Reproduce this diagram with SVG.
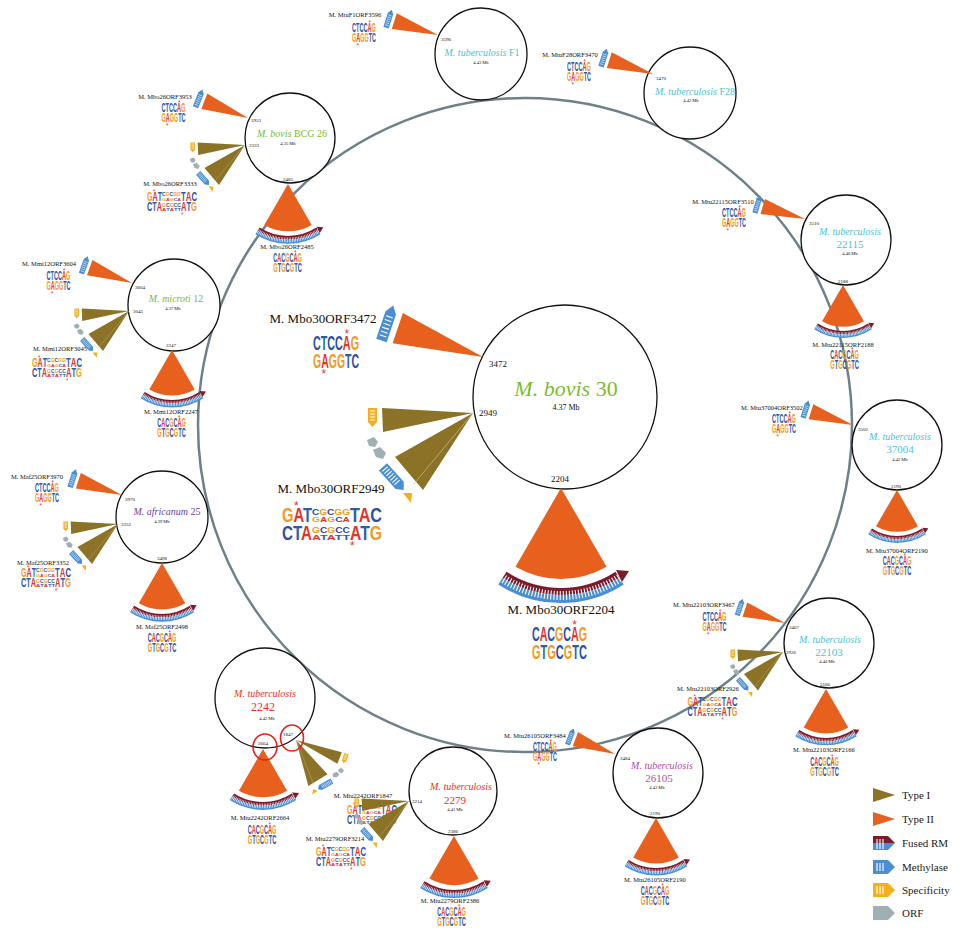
<svg xmlns="http://www.w3.org/2000/svg" width="968" height="938" viewBox="0 0 968 938">
<style>
.or{fill:#e8601e}.ol{fill:#8b7226}.bl{fill:#4a8fd6}.ye{fill:#f2b01c}.gr{fill:#9fb0b5}.dr{fill:#7b1b2c}
.st{stroke:#fff;stroke-width:1.1;fill:none}
.cir{fill:#fff;stroke:#111;stroke-width:1.3}
.lg{font-family:"Liberation Sans",Arial,sans-serif;font-weight:bold;font-size:21px}
.sm{font-family:"Liberation Sans",Arial,sans-serif;font-weight:bold}
.a{fill:#e3342b}.c{fill:#2c4fa6}.g{fill:#f39a1f}.t{fill:#2a5fa8}
.star{fill:#e3342b;font-family:"Liberation Sans",Arial,sans-serif;font-size:12px}
.lb{font-family:"Liberation Serif","Times New Roman",serif;font-size:6.5px;fill:#111;text-anchor:middle}
.lbb{font-family:"Liberation Serif","Times New Roman",serif;font-size:13px;fill:#111;text-anchor:middle}
.pn{font-family:"Liberation Serif","Times New Roman",serif;font-size:5px;fill:#111}
.pnb{font-family:"Liberation Serif","Times New Roman",serif;font-size:9px;fill:#111}
.ti{font-family:"Liberation Serif","Times New Roman",serif;font-size:10px;text-anchor:middle}
.nm{font-family:"Liberation Serif","Times New Roman",serif;font-size:11px;text-anchor:middle}
.mb{font-family:"Liberation Serif","Times New Roman",serif;font-size:4.5px;fill:#111;text-anchor:middle}
.it{font-style:italic}
.cy{fill:#4fbfd2}.gn{fill:#7cbb2c}.rd{fill:#e3322b}.mg{fill:#b94aa3}.pu{fill:#6b3fa6}
.leg{font-family:"Liberation Serif","Times New Roman",serif;font-size:11px;fill:#222}
</style>
<defs>
<g id="meth">
<path class="bl" d="M-107,17 L-107,-12 L-101.5,-20 L-96,-12 L-96,17 Z"/>
<path class="st" d="M-105,-8H-98M-105,-4H-98M-105,0H-98M-105,4H-98M-105,8H-98M-105,12H-98"/>
</g>
<g id="t2">
<polygon class="or" points="0,0 -90,-16 -90,16"/>
<use href="#meth"/>
</g>
<g id="t1">
<polygon class="ol" points="0,0 -91,-5 -90,19"/>
<polygon class="ol" points="0,0 -78,44 -50,77"/>
<line x1="0" y1="0" x2="-60" y2="72" stroke="#d8c890" stroke-width="0.6"/>
<path class="ye" d="M-105,-5 L-96,-5 L-96,9 L-100.5,14 L-105,9 Z"/>
<path class="st" d="M-103,-2H-98M-103,1H-98M-103,4H-98M-103,7H-98"/>
<path class="gr" d="M-106,27 L-99,24 L-95,29 L-98,34 L-104,33 Z"/>
<path class="gr" d="M-100,37 L-93,34 L-87,40 L-90,46 L-97,44 Z"/>
<g transform="translate(-80,65) rotate(48)">
<path class="bl" d="M-15,-5.5 L10,-5.5 L16,0 L10,5.5 L-15,5.5 Z"/>
<path class="st" d="M-12,-3.5V3.5M-9,-3.5V3.5M-6,-3.5V3.5M-3,-3.5V3.5M0,-3.5V3.5M3,-3.5V3.5M6,-3.5V3.5"/>
</g>
<polygon class="ye" points="-70,80 -61,80 -62,90"/>
</g>
<g id="fu">
<path class="or" d="M0,0 L45.5,78.8 A91,91 0 0 1 -45.5,78.8 Z"/>
<path d="M56.4,86.8 A103.5,103.5 0 0 1 -56.4,86.8" fill="none" stroke="#7b1b2c" stroke-width="7"/>
<path d="M60.5,93.1 A111,111 0 0 1 -60.5,93.1" fill="none" stroke="#4a8fd6" stroke-width="8"/>
<path d="M58.5,90.2 A107.5,107.5 0 0 1 -58.5,90.2" fill="none" stroke="#fff" stroke-width="9" stroke-dasharray="1.1 2"/>
<polygon class="dr" points="55,82 68,83 61,94"/>
</g>
<g id="lCT">
<text class="lg" x="-23" y="0" textLength="46" lengthAdjust="spacingAndGlyphs"><tspan class="c">C</tspan><tspan class="t">T</tspan><tspan class="c">C</tspan><tspan class="c">C</tspan><tspan class="a">A</tspan><tspan class="g">G</tspan></text>
<text class="lg" x="-23" y="18" textLength="46" lengthAdjust="spacingAndGlyphs"><tspan class="g">G</tspan><tspan class="a">A</tspan><tspan class="g">G</tspan><tspan class="g">G</tspan><tspan class="t">T</tspan><tspan class="c">C</tspan></text>
<text class="star" x="8.5" y="-12">*</text>
<text class="star" x="-14.5" y="28">*</text>
</g>
<g id="lCA">
<text class="lg" x="-27.5" y="0" textLength="55" lengthAdjust="spacingAndGlyphs"><tspan class="c">C</tspan><tspan class="a">A</tspan><tspan class="c">C</tspan><tspan class="g">G</tspan><tspan class="c">C</tspan><tspan class="a">A</tspan><tspan class="g">G</tspan></text>
<text class="lg" x="-27.5" y="18" textLength="55" lengthAdjust="spacingAndGlyphs"><tspan class="g">G</tspan><tspan class="t">T</tspan><tspan class="g">G</tspan><tspan class="c">C</tspan><tspan class="g">G</tspan><tspan class="t">T</tspan><tspan class="c">C</tspan></text>
<text class="star" x="12.7" y="-12">*</text>
</g>
<g id="lGA">
<text class="lg" x="-50" y="0" textLength="30" lengthAdjust="spacingAndGlyphs"><tspan class="g">G</tspan><tspan class="a">A</tspan><tspan class="t">T</tspan></text>
<text class="sm" x="-20" y="-7" font-size="9" textLength="38" lengthAdjust="spacingAndGlyphs"><tspan class="c">C</tspan><tspan class="g">G</tspan><tspan class="c">C</tspan><tspan class="g">G</tspan><tspan class="g">G</tspan></text>
<text class="sm" x="-20" y="0" font-size="7" textLength="38" lengthAdjust="spacingAndGlyphs"><tspan class="g">G</tspan><tspan class="a">A</tspan><tspan class="g">G</tspan><tspan class="c">C</tspan><tspan class="a">A</tspan></text>
<text class="lg" x="18" y="0" textLength="32" lengthAdjust="spacingAndGlyphs"><tspan class="t">T</tspan><tspan class="a">A</tspan><tspan class="c">C</tspan></text>
<text class="lg" x="-50" y="18" textLength="30" lengthAdjust="spacingAndGlyphs"><tspan class="c">C</tspan><tspan class="t">T</tspan><tspan class="a">A</tspan></text>
<text class="sm" x="-20" y="11" font-size="9" textLength="38" lengthAdjust="spacingAndGlyphs"><tspan class="g">G</tspan><tspan class="c">C</tspan><tspan class="g">G</tspan><tspan class="c">C</tspan><tspan class="c">C</tspan></text>
<text class="sm" x="-20" y="18" font-size="7" textLength="38" lengthAdjust="spacingAndGlyphs"><tspan class="a">A</tspan><tspan class="t">T</tspan><tspan class="a">A</tspan><tspan class="t">T</tspan><tspan class="t">T</tspan></text>
<text class="lg" x="18" y="18" textLength="32" lengthAdjust="spacingAndGlyphs"><tspan class="a">A</tspan><tspan class="t">T</tspan><tspan class="g">G</tspan></text>
<text class="star" x="-38" y="-12">*</text>
<text class="star" x="18" y="28">*</text>
</g>
</defs>
<rect width="968" height="938" fill="#fff"/>

<g id="connectors">
<circle cx="525" cy="425" r="327" fill="none" stroke="#6e8088" stroke-width="2.5"/>
</g>

<g id="bovis30">
<circle class="cir" cx="565" cy="397" r="92" stroke-width="1.8"/>
<text class="ti gn" x="566" y="396" style="font-size:22px"><tspan class="it">M. bovis</tspan> 30</text>
<text class="mb" x="566" y="410" style="font-size:8px">4.37 Mb</text>
<use href="#t2" transform="translate(483,357) rotate(18.7)"/>
<text class="pnb" x="489" y="367">3472</text>
<text class="lbb" x="323" y="323">M. Mbo30ORF3472</text>
<use href="#lCT" transform="translate(336,350)"/>
<use href="#t1" transform="translate(473,413)"/>
<text class="pnb" x="479" y="416">2949</text>
<text class="lbb" x="331" y="493">M. Mbo30ORF2949</text>
<use href="#lGA" transform="translate(332,522)"/>
<use href="#fu" transform="translate(561,488)"/>
<text class="pnb" x="560" y="482" text-anchor="middle">2204</text>
<text class="lbb" x="561" y="614">M. Mbo30ORF2204</text>
<use href="#lCA" transform="translate(559.5,641)"/>
</g>

<g id="F1">
<circle class="cir" cx="481" cy="54" r="46"/>
<text class="ti cy" x="482" y="56"><tspan class="it">M. tuberculosis</tspan>  F1</text>
<text class="mb" x="481" y="64">4.43 Mb</text>
<use href="#t2" transform="translate(438,35) rotate(17.6) scale(0.51)"/>
<text class="pn" x="441" y="41">3596</text>
<text class="lb" x="355" y="17">M. MtuF1ORF3596</text>
<use href="#lCT" transform="translate(364,31.5) scale(0.52,0.58)"/>
</g>

<g id="F28">
<circle class="cir" cx="690" cy="93" r="46"/>
<text class="ti cy" x="695" y="95"><tspan class="it">M. tuberculosis</tspan>  F28</text>
<text class="mb" x="691" y="102">4.42 Mb</text>
<use href="#t2" transform="translate(653,74) rotate(17.6) scale(0.51)"/>
<text class="pn" x="656" y="80">3470</text>
<text class="lb" x="570" y="57">M. MtuF28ORF3470</text>
<use href="#lCT" transform="translate(579,70.5) scale(0.52,0.58)"/>
</g>

<g id="BCG26">
<circle class="cir" cx="290" cy="138" r="45"/>
<text class="ti gn" x="292" y="137"><tspan class="it">M. bovis</tspan> BCG 26</text>
<text class="mb" x="288" y="145">4.35 Mb</text>
<use href="#t2" transform="translate(248,118) rotate(21) scale(0.52)"/>
<text class="pn" x="251" y="122">3953</text>
<text class="lb" x="165" y="99">M. Mbo26ORF3953</text>
<use href="#lCT" transform="translate(173.5,111.5) scale(0.52,0.58)"/>
<use href="#t1" transform="translate(245,145) scale(0.52)"/>
<text class="pn" x="249" y="147">3333</text>
<text class="lb" x="170" y="186">M. Mbo26ORF3333</text>
<use href="#lGA" transform="translate(172,200.5) scale(0.5,0.58)"/>
<use href="#fu" transform="translate(288,184) scale(0.52)"/>
<text class="pn" x="288" y="181" text-anchor="middle">2485</text>
<text class="lb" x="287" y="249">M. Mbo26ORF2485</text>
<use href="#lCA" transform="translate(287.5,261.5) scale(0.52,0.58)"/>
</g>

<g id="Mmi12">
<circle class="cir" cx="174" cy="305" r="46"/>
<text class="ti gn" x="176" y="302"><tspan class="it">M. microti</tspan> 12</text>
<text class="mb" x="173" y="310">4.37 Mb</text>
<use href="#t2" transform="translate(132,283) rotate(20) scale(0.5)"/>
<text class="pn" x="135" y="289">3604</text>
<text class="lb" x="49" y="266">M. Mmi12ORF3604</text>
<use href="#lCT" transform="translate(58.5,279.5) scale(0.52,0.58)"/>
<use href="#t1" transform="translate(129,311) scale(0.52)"/>
<text class="pn" x="133" y="313">3045</text>
<text class="lb" x="60" y="351">M. Mmi12ORF3045</text>
<use href="#lGA" transform="translate(57,366.5) scale(0.5,0.58)"/>
<use href="#fu" transform="translate(172,350) scale(0.5)"/>
<text class="pn" x="171" y="347" text-anchor="middle">2247</text>
<text class="lb" x="171" y="414">M. Mmi12ORF2247</text>
<use href="#lCA" transform="translate(171.5,426.5) scale(0.52,0.58)"/>
</g>

<g id="Maf25">
<circle class="cir" cx="162" cy="517" r="46"/>
<text class="ti pu" x="167" y="515"><tspan class="it">M. africanum</tspan> 25</text>
<text class="mb" x="162" y="523">4.39 Mb</text>
<use href="#t2" transform="translate(122,495) rotate(18) scale(0.51)"/>
<text class="pn" x="125" y="501">3970</text>
<text class="lb" x="37" y="479">M. Maf25ORF3970</text>
<use href="#lCT" transform="translate(47,491.5) scale(0.52,0.58)"/>
<use href="#t1" transform="translate(118,524) scale(0.52)"/>
<text class="pn" x="121" y="526">3352</text>
<text class="lb" x="43" y="565">M. Maf25ORF3352</text>
<use href="#lGA" transform="translate(46,576.5) scale(0.5,0.58)"/>
<use href="#fu" transform="translate(162,563) scale(0.51)"/>
<text class="pn" x="162" y="560" text-anchor="middle">3498</text>
<text class="lb" x="162" y="629">M. Maf25ORF2498</text>
<use href="#lCA" transform="translate(162,641.5) scale(0.52,0.58)"/>
</g>

<g id="Mtu22115">
<circle class="cir" cx="846" cy="240" r="45"/>
<text class="ti cy it" x="850" y="235">M. tuberculosis</text>
<text class="nm cy" x="850" y="248">22115</text>
<text class="mb" x="850" y="255">4.40 Mb</text>
<use href="#t2" transform="translate(805,219) rotate(16.4) scale(0.49)"/>
<text class="pn" x="809" y="225">3510</text>
<text class="lb" x="723" y="204">M. Mtu22115ORF3510</text>
<use href="#lCT" transform="translate(734,216.5) scale(0.52,0.58)"/>
<use href="#fu" transform="translate(843,285) scale(0.46)"/>
<text class="pn" x="843" y="283" text-anchor="middle">2188</text>
<text class="lb" x="843" y="347">M. Mtu22115ORF2188</text>
<use href="#lCA" transform="translate(844.5,358.5) scale(0.52,0.58)"/>
</g>

<g id="Mtu37004">
<circle class="cir" cx="897" cy="445" r="45"/>
<text class="ti cy it" x="900" y="440">M. tuberculosis</text>
<text class="nm cy" x="900" y="453">37004</text>
<text class="mb" x="900" y="461">4.42 Mb</text>
<use href="#t2" transform="translate(853,425) rotate(17.6) scale(0.49)"/>
<text class="pn" x="858" y="431">3502</text>
<text class="lb" x="772" y="410">M. Mtu37004ORF3502</text>
<use href="#lCT" transform="translate(784,422.5) scale(0.52,0.58)"/>
<use href="#fu" transform="translate(897,490) scale(0.46)"/>
<text class="pn" x="896" y="488" text-anchor="middle">2190</text>
<text class="lb" x="897" y="553">M. Mtu37004ORF2190</text>
<use href="#lCA" transform="translate(897,564.5) scale(0.52,0.58)"/>
</g>

<g id="Mtu22103">
<circle class="cir" cx="829" cy="643" r="45"/>
<text class="ti cy it" x="830" y="643">M. tuberculosis</text>
<text class="nm cy" x="829" y="656">22103</text>
<text class="mb" x="827" y="663">4.40 Mb</text>
<use href="#t2" transform="translate(785,623) rotate(18.6) scale(0.47)"/>
<text class="pn" x="789" y="629">3467</text>
<text class="lb" x="704" y="607">M. Mtu22103ORF3467</text>
<use href="#lCT" transform="translate(714.5,620.5) scale(0.52,0.58)"/>
<use href="#t1" transform="translate(783,652) scale(0.5)"/>
<text class="pn" x="786" y="654">2926</text>
<text class="lb" x="708" y="691">M. Mtu22103ORF2926</text>
<use href="#lGA" transform="translate(712.5,705.5) scale(0.5,0.58)"/>
<use href="#fu" transform="translate(826,689) scale(0.49)"/>
<text class="pn" x="825" y="686" text-anchor="middle">2166</text>
<text class="lb" x="824" y="752">M. Mtu22103ORF2166</text>
<use href="#lCA" transform="translate(824.5,765.5) scale(0.52,0.58)"/>
</g>

<g id="Mtu26105">
<circle class="cir" cx="658" cy="773" r="45"/>
<text class="ti mg it" x="662" y="769">M. tuberculosis</text>
<text class="nm mg" x="659" y="782">26105</text>
<text class="mb" x="657" y="789">4.43 Mb</text>
<use href="#t2" transform="translate(615,754) rotate(20.6) scale(0.47)"/>
<text class="pn" x="620" y="760">3484</text>
<text class="lb" x="535" y="738">M. Mtu26105ORF3484</text>
<use href="#lCT" transform="translate(545,750.5) scale(0.52,0.58)"/>
<use href="#fu" transform="translate(656,818) scale(0.5)"/>
<text class="pn" x="655" y="815" text-anchor="middle">2190</text>
<text class="lb" x="655" y="882">M. Mtu26105ORF2190</text>
<use href="#lCA" transform="translate(655,894.5) scale(0.52,0.58)"/>
</g>

<g id="Mtu2242">
<circle class="cir" cx="265" cy="698" r="50"/>
<text class="ti rd it" x="265" y="697">M. tuberculosis</text>
<text class="nm rd" x="263" y="711" style="font-size:12px">2242</text>
<text class="mb" x="267" y="720">4.42 Mb</text>
<use href="#fu" transform="translate(263,749) scale(0.53)"/>
<text class="pn" x="263" y="745" text-anchor="middle">2664</text>
<text class="lb" x="260" y="820">M. Mtu2242ORF2664</text>
<use href="#lCA" transform="translate(262,833.5) scale(0.52,0.58)"/>
<text class="lb" x="363" y="798">M. Mtu2242ORF1847</text>
<use href="#lGA" transform="translate(372,813.5) scale(0.5,0.58)"/>
<use href="#t1" transform="translate(296,740) rotate(18) scale(-0.52,0.52)"/>
<text class="pn" x="288" y="736" text-anchor="middle">1847</text>
<ellipse cx="265" cy="747" rx="12" ry="13" fill="none" stroke="#e3221c" stroke-width="1.6"/>
<ellipse cx="292" cy="738" rx="11.5" ry="13" fill="none" stroke="#e3221c" stroke-width="1.6"/>
</g>

<g id="Mtu2279">
<circle class="cir" cx="453" cy="791" r="44"/>
<text class="ti rd it" x="461" y="790">M. tuberculosis</text>
<text class="nm rd" x="455" y="804">2279</text>
<text class="mb" x="455" y="811">4.41 Mb</text>
<use href="#t1" transform="translate(409,801) scale(0.52)"/>
<text class="pn" x="412" y="803">3214</text>
<text class="lb" x="335" y="841">M. Mtu2279ORF3214</text>
<use href="#lGA" transform="translate(341,855.5) scale(0.5,0.58)"/>
<use href="#fu" transform="translate(454,836) scale(0.54)"/>
<text class="pn" x="453" y="833" text-anchor="middle">2386</text>
<text class="lb" x="450" y="903">M. Mtu2279ORF2386</text>
<use href="#lCA" transform="translate(451.5,915.5) scale(0.52,0.58)"/>
</g>

<g id="legend">
<path class="ol" d="M873,788 L895,795 L873,802 Z"/>
<text class="leg" x="902" y="799">Type I</text>
<path class="or" d="M873,812 L895,819 L873,826 Z"/>
<text class="leg" x="902" y="823">Type II</text>
<path class="dr" d="M873,836 L888,836 L895,843 L873,843 Z"/>
<path class="bl" d="M873,843 L895,843 L888,850 L873,850 Z"/>
<path class="st" d="M877,839V849M880,839V849M883,839V849"/>
<text class="leg" x="902" y="847">Fused RM</text>
<path class="bl" d="M873,860 L888,860 L895,867 L888,874 L873,874 Z"/>
<path class="st" d="M877,863V871M880,863V871M883,863V871"/>
<text class="leg" x="902" y="871">Methylase</text>
<path class="ye" d="M873,883 L888,883 L895,890 L888,897 L873,897 Z"/>
<path class="st" d="M877,886V894M880,886V894M883,886V894"/>
<text class="leg" x="902" y="894">Specificity</text>
<path class="gr" d="M873,906 L888,906 L895,913 L888,920 L873,920 Z"/>
<text class="leg" x="902" y="917">ORF</text>
</g>
</svg>
